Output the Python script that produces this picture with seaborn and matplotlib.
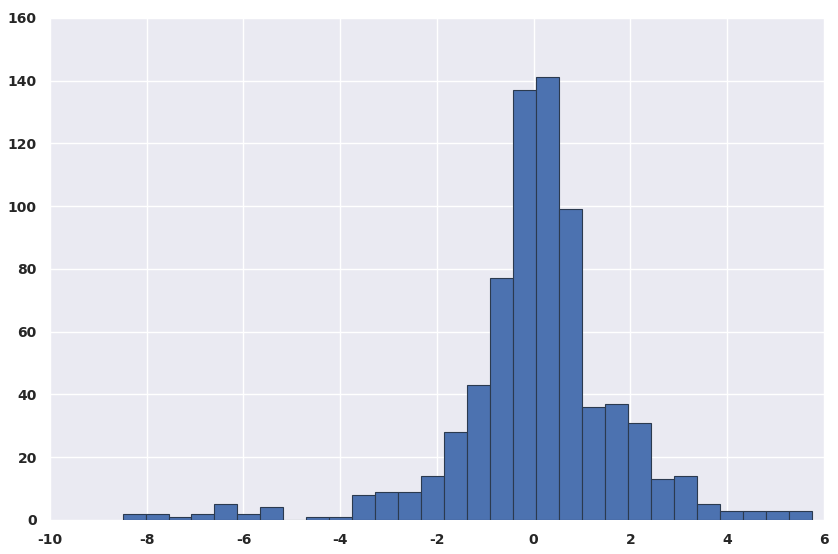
import numpy as np
import pandas as pd
import matplotlib
matplotlib.use("Agg")
import matplotlib.pyplot as plt
import seaborn as sns

bin_start = -8.5
bin_end = 5.75
counts = [2, 2, 1, 2, 5, 2, 4, 0, 1, 1, 8, 9, 9, 14, 28, 43, 77, 137, 141, 99,
          36, 37, 31, 13, 14, 5, 3, 3, 3, 3]

edges = np.linspace(bin_start, bin_end, len(counts) + 1)
centers = (edges[:-1] + edges[1:]) / 2
df = pd.DataFrame({"x": centers, "w": counts})

sns.set_theme(style="darkgrid")
plt.rcParams['font.family'] = ['DejaVu Sans']
plt.rcParams['axes.unicode_minus'] = False
fig, ax = plt.subplots(figsize=(8.38, 5.54), dpi=100)
sns.histplot(data=df, x="x", weights="w", bins=len(counts),
             binrange=(bin_start, bin_end), ax=ax, color="#4C72B0",
             alpha=1, edgecolor="#2b3a4f", linewidth=0.8)
ax.set_xlim(-10, 6)
ax.set_ylim(0, 160)
ax.set_xticks(range(-10, 7, 2))
ax.set_yticks(range(0, 161, 20))
ax.set_xlabel("")
ax.set_ylabel("")
for t in ax.get_xticklabels() + ax.get_yticklabels():
    t.set_fontweight("bold")
    t.set_fontsize(10)
    t.set_color("#262626")
for s in ax.spines.values():
    s.set_visible(False)
fig.subplots_adjust(left=0.0597, right=0.983, top=0.968, bottom=0.0614)
fig.savefig("out.png")
